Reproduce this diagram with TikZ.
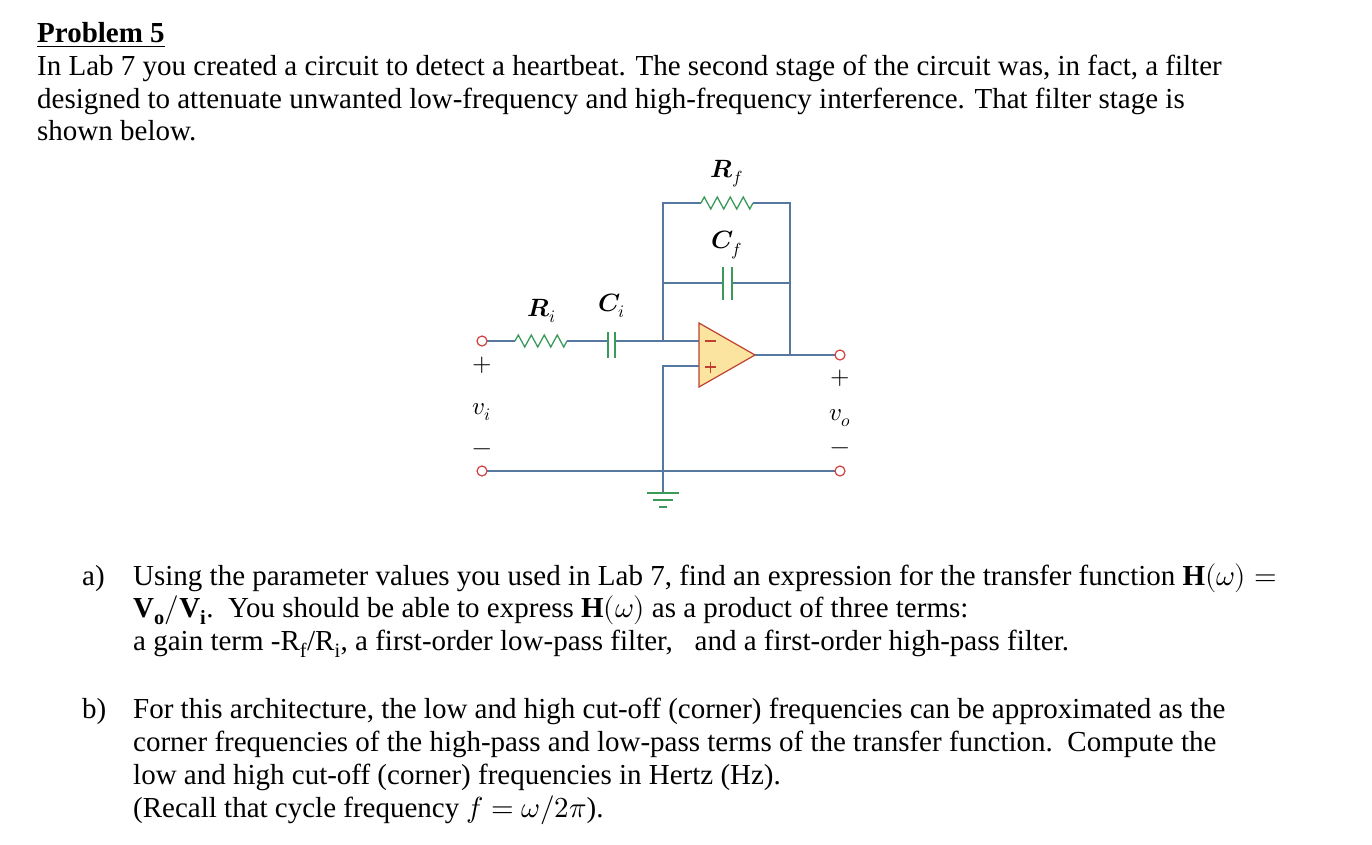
\documentclass[tikz,border=0pt]{standalone}
\usepackage{fontspec}
\setmainfont{Liberation Serif}
\usepackage{amsmath}
\usepackage{unicode-math}
\setmathfont{Latin Modern Math}
\usetikzlibrary{decorations.pathmorphing}
\definecolor{wire}{HTML}{5577A0}
\definecolor{comp}{HTML}{3A9A5A}
\definecolor{term}{HTML}{D04040}
\definecolor{opf}{HTML}{FBE3A0}
\definecolor{ope}{HTML}{C04030}
\begin{document}
\begin{tikzpicture}[x=1pt,y=-1pt,
  txt/.style={anchor=base west,inner sep=0pt,font=\fontsize{29}{34}\selectfont},
  lab/.style={inner sep=0pt,font=\fontsize{25}{30}\selectfont},
  w/.style={draw=wire,line width=1.3pt},
  res/.style={draw=comp,line width=1.3pt,decorate,decoration={zigzag,segment length=13pt,amplitude=6pt}},
  capplate/.style={draw=comp,line width=1.3pt},
  termc/.style={circle,draw=term,fill=white,line width=1.2pt,minimum size=10pt,inner sep=0pt}]
\useasboundingbox (0,0) rectangle (1372,844);
% text
\node[txt] (t0) at (37,42) {\textbf{\underline{Problem 5}}};
\node[txt] (t1) at (37,75) {In Lab 7 you created a circuit to detect a heartbeat. The second stage of the circuit was, in fact, a filter};
\node[txt] (t2) at (37,108) {designed to attenuate unwanted low-frequency and high-frequency interference. That filter stage is};
\node[txt] (t3) at (37,140) {shown below.};
\node[txt] (a0) at (82,585) {a)};
\node[txt] (a1) at (133,585) {Using the parameter values you used in Lab 7, find an expression for the transfer function $\mathbf{H}(\omega)=$};
\node[txt] (a2) at (133,617) {$\mathbf{V_o/V_i}$.\ \ You should be able to express $\mathbf{H}(\omega)$ as a product of three terms:};
\node[txt] (a3) at (133,650) {a gain term -R\textsubscript{f}/R\textsubscript{i}, a first-order low-pass filter,\ \ \ and a first-order high-pass filter.};
\node[txt] (b0) at (82,718) {b)};
\node[txt] (b1) at (133,718) {For this architecture, the low and high cut-off (corner) frequencies can be approximated as the};
\node[txt] (b2) at (133,751) {corner frequencies of the high-pass and low-pass terms of the transfer function.\ \ Compute the};
\node[txt] (b3) at (133,784) {low and high cut-off (corner) frequencies in Hertz (Hz).};
\node[txt] (b4) at (133,817) {(Recall that cycle frequency $f=\omega/2\pi$).};
% circuit coordinates
\coordinate (n1) at (663,341);
\coordinate (ftl) at (663,203);
\coordinate (ftr) at (790,203);
\coordinate (fml) at (663,283);
\coordinate (fmr) at (790,283);
\coordinate (oj) at (790,355);
\coordinate (pin) at (663,366);
\coordinate (gnd) at (663,493);
% opamp
\draw[ope,fill=opf,line width=1.2pt] (699,323) -- (755,355) -- (699,387) -- cycle;
\draw[ope,line width=1.8pt] (705,341) -- (716,341) (705,367) -- (716,367) (710.5,361.5) -- (710.5,372.5);
% wires
\draw[w] (487,341) -- (515,341);
\draw[res] (515,341) -- (567,341);
\draw[w] (567,341) -- (608,341);
\draw[w] (615,341) -- (n1) -- (699,341);
\draw[w] (n1) -- (fml) -- (ftl) -- (701,203);
\draw[res] (701,203) -- (753,203);
\draw[w] (753,203) -- (ftr) -- (fmr) -- (oj);
\draw[w] (fml) -- (723,283);
\draw[w] (732,283) -- (fmr);
\draw[w] (755,355) -- (oj) -- (835,355);
\draw[w] (699,366) -- (pin) -- (gnd);
\draw[w] (487,471) -- (835,471);
\draw[capplate] (608,332) -- (608,358) (615,332) -- (615,358);
\draw[capplate] (723,267) -- (723,300) (732,267) -- (732,300);
\draw[comp,line width=1.3pt] (647,493) -- (679,493) (653,500) -- (673,500) (659,507) -- (667,507);
\node[termc] (ti1) at (482,341) {};
\node[termc] (ti2) at (482,471) {};
\node[termc] (to1) at (840,355) {};
\node[termc] (to2) at (840,471) {};
% labels
\node[lab] (lRi) at (542,311) {$\symbfit{R}_i$};
\node[lab] (lCi) at (612,306) {$\symbfit{C}_i$};
\node[lab] (lRf) at (727,174) {$\symbfit{R}_f$};
\node[lab] (lCf) at (727,245) {$\symbfit{C}_f$};
\node[lab] (pi) at (482,365) {$+$};
\node[lab] (vi) at (482,412) {$v_i$};
\node[lab] (mi2) at (482,452) {$-$};
\node[lab] (po) at (840,378) {$+$};
\node[lab] (vo) at (840,418) {$v_o$};
\node[lab] (mo) at (840,451) {$-$};
\end{tikzpicture}
\end{document}
